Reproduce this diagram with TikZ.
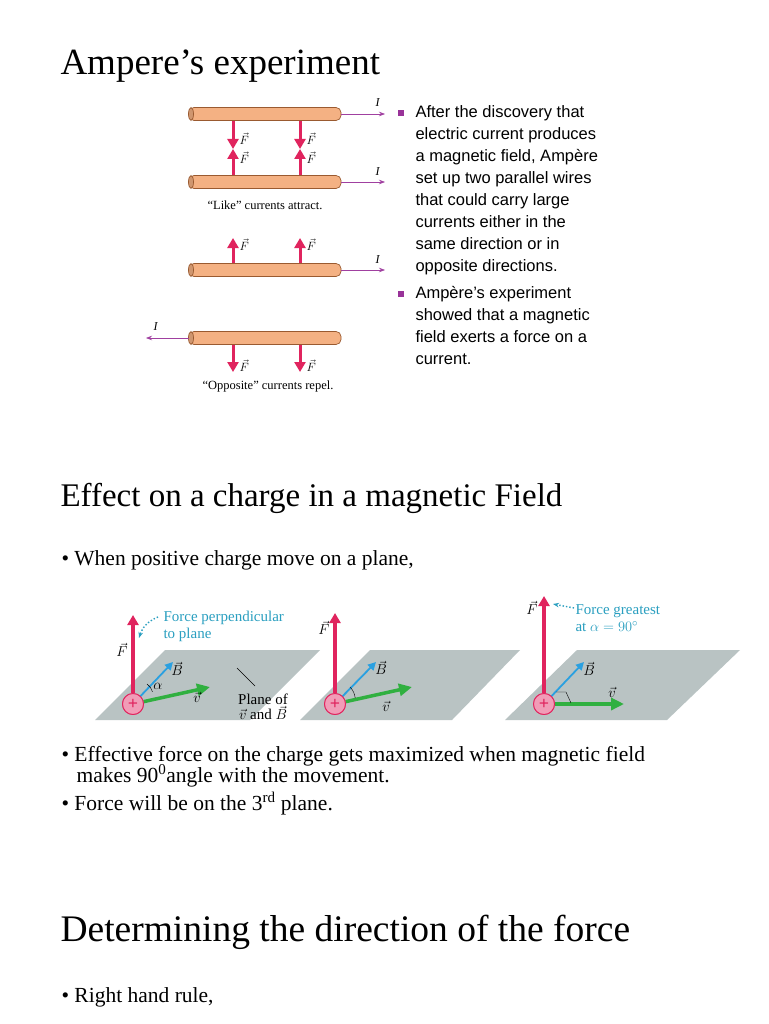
\documentclass[tikz,border=0pt]{standalone}
\usepackage{fontspec}
\setmainfont{Liberation Serif}
\newfontfamily\sfont{Liberation Sans}
\usetikzlibrary{arrows.meta}
\definecolor{wirec}{HTML}{F4B183}
\definecolor{wireo}{HTML}{9A5A30}
\definecolor{fc}{HTML}{E0245E}
\definecolor{ic}{HTML}{A040A0}
\definecolor{plc}{HTML}{B9C3C3}
\definecolor{bc}{HTML}{2AA0E0}
\definecolor{vc}{HTML}{30B040}
\definecolor{cyt}{HTML}{2A9FC0}
\definecolor{bul}{HTML}{993399}
\tikzset{
 wire/.style={draw=wireo,fill=wirec,line width=0.7pt,rounded corners=5pt},
 farr/.style={fc,line width=3pt,-{Triangle[width=11pt,length=10pt]}},
 iarr/.style={ic,line width=0.7pt,-{Stealth[length=6pt]}},
 flab/.style={font=\fontsize{12}{12}\selectfont\itshape,anchor=west},
 captxt/.style={font=\fontsize{12.5}{12.5}\selectfont},
 title/.style={anchor=base west},
 body/.style={font=\fontsize{21.5}{26}\selectfont,anchor=base west},
 rtxt/.style={font=\sfont\fontsize{16.5}{22}\selectfont,anchor=north west,align=left},
 plane/.style={fill=plc,draw=none},
 charge/.style={circle,fill=fc!45,draw=fc,line width=0.9pt,minimum size=21pt,inner sep=0pt,font=\bfseries\fontsize{18}{18}\selectfont\color{fc}},
 barr/.style={bc,line width=1.8pt,-{Triangle[width=8pt,length=8pt]}},
 varr/.style={vc,line width=3.5pt,-{Triangle[width=12pt,length=13pt]}},
 ctxt/.style={cyt,font=\fontsize{15}{17}\selectfont,anchor=west,align=left},
 vlab/.style={font=\fontsize{15}{15}\selectfont},
}
\begin{document}
\begin{tikzpicture}[x=1pt,y=-1pt]
\useasboundingbox[fill=white] (0,0) rectangle (768,1024);
% titles
\node[title,font=\fontsize{37}{37}\selectfont] (t1) at (57,75) {Ampere’s experiment};
\node[title,font=\fontsize{33}{33}\selectfont] (t2) at (57,506) {Effect on a charge in a magnetic Field};
\node[title,font=\fontsize{37.5}{37.5}\selectfont] (t3) at (57,941) {Determining the direction of the force};
% wires
\foreach \n/\y in {w1/114,w2/182,w3/270,w4/338}{
  \node[wire,minimum width=152pt,minimum height=13pt,inner sep=0pt] (\n) at (265,\y) {};
  \draw[wireo,line width=0.7pt,fill=wirec!85!black] (191,\y) ellipse (2.5pt and 6.5pt);
}
% currents
\coordinate (i1) at (385,114); \coordinate (i2) at (385,182);
\coordinate (i3) at (385,270); \coordinate (i4) at (146,338);
\draw[iarr] (w1.east) -- (i1); \draw[iarr] (w2.east) -- (i2);
\draw[iarr] (w3.east) -- (i3); \draw[iarr] (w4.west) -- (i4);
\node[flab] (l1) at (372,103) {I}; \node[flab] (l2) at (372,172) {I};
\node[flab] (l3) at (372,260) {I}; \node[flab] (l4) at (150,327) {I};
% forces
\foreach \x/\k in {233/a,300/b}{
 \coordinate (d1\k) at (\x,149); \coordinate (u2\k) at (\x,149);
 \coordinate (u3\k) at (\x,238); \coordinate (d4\k) at (\x,372);
 \draw[farr] (\x,121) -- (d1\k);
 \draw[farr] (\x,175) -- (u2\k);
 \draw[farr] (\x,263) -- (u3\k);
 \draw[farr] (\x,345) -- (d4\k);
 \node[flab] at (\x+3,139) {$\vec F$};
 \node[flab] at (\x+3,158) {$\vec F$};
 \node[flab] at (\x+3,245) {$\vec F$};
 \node[flab] at (\x+3,366) {$\vec F$};
}
\node[captxt] (c1) at (265,205) {“Like” currents attract.};
\node[captxt] (c2) at (268,386) {“Opposite” currents repel.};
% right text
\fill[bul] (398,110) rectangle (404,116);
\node[rtxt] (r1) at (412,102) {After the discovery that\\electric current produces\\a magnetic field, Ampère\\set up two parallel wires\\that could carry large\\currents either in the\\same direction or in\\opposite directions.};
\fill[bul] (398,291) rectangle (404,297);
\node[rtxt] (r2) at (412,283) {Ampère’s experiment\\showed that a magnetic\\field exerts a force on a\\current.};
% bullets
\node[body] (b1) at (58,565) {• When positive charge move on a plane,};
\node[body] (b2) at (58,761) {• Effective force on the charge gets maximized when magnetic field};
\node[body] (b3) at (73,782) {makes 90$^{\mathrm{0}}$angle with the movement.};
\node[body] (b4) at (58,810) {• Force will be on the 3\textsuperscript{rd} plane.};
\node[body] (b5) at (58,1002) {• Right hand rule,};
% planes
\fill[plane] (95,720) -- (250,720) -- (320,650) -- (165,650) -- cycle;
\fill[plane] (300,720) -- (452,720) -- (520,650) -- (370,650) -- cycle;
\fill[plane] (505,720) -- (667,720) -- (740,650) -- (577,650) -- cycle;
% plane 1
\coordinate (f1) at (133,615); \coordinate (bb1) at (173,662); \coordinate (vv1) at (210,687);
\node[charge] (q1) at (133,704) {};
\draw[farr,line width=3.5pt] (q1.north) -- (f1);
\draw[barr] (q1) -- (bb1);
\draw[varr] (q1) -- (vv1);
\node[charge] at (133,704) {+};
\draw (147,684) arc[start angle=55,end angle=15,radius=14pt];
\node[vlab] at (158,686) {$\alpha$};
\node[vlab] at (177,669) {$\vec B$};
\node[vlab] at (197,697) {$\vec v$};
\node[vlab] at (122,650) {$\vec F$};
\node[ctxt] (cp) at (160,626) {Force perpendicular\\to plane};
\draw[cyt,line width=1.4pt,dotted,-{Stealth[length=6pt]}] (158,617) to[bend right=25] (139,638);
\draw (237,668) -- (255,686);
\node[vlab,align=center] (pl) at (263,707) {Plane of\\$\vec v$ and $\vec B$};
% plane 2
\coordinate (f2) at (335,613); \coordinate (bb2) at (376,662); \coordinate (vv2) at (412,687);
\node[charge] (q2) at (335,704) {};
\draw[farr,line width=3.5pt] (q2.north) -- (f2);
\draw[barr] (q2) -- (bb2);
\draw[varr] (q2) -- (vv2);
\node[charge] at (335,704) {+};
\draw (350,687) arc[start angle=45,end angle=5,radius=18pt];
\node[vlab] at (381,668) {$\vec B$};
\node[vlab] at (386,706) {$\vec v$};
\node[vlab] at (324,628) {$\vec F$};
% plane 3
\coordinate (f3) at (544,596); \coordinate (bb3) at (584,662); \coordinate (vv3) at (624,704);
\node[charge] (q3) at (544,704) {};
\draw[farr,line width=3.5pt] (q3.north) -- (f3);
\draw[barr] (q3) -- (bb3);
\draw[varr] (q3) -- (vv3);
\node[charge] at (544,704) {+};
\draw (556,692) -- (566,692) -- (571,703);
\node[vlab] at (589,669) {$\vec B$};
\node[vlab] at (612,692) {$\vec v$};
\node[vlab] at (532,608) {$\vec F$};
\node[ctxt] (cg) at (572,618) {Force greatest\\at $\alpha = 90^\circ$};
\draw[cyt,line width=1.4pt,dotted,-{Stealth[length=6pt]}] (574,608) -- (553,604);
\end{tikzpicture}
\end{document}
